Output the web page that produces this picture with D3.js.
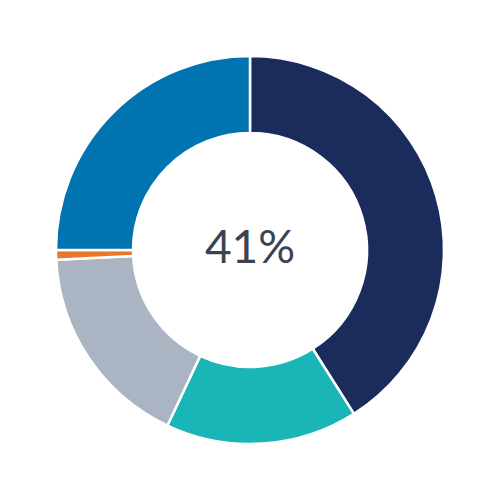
<!DOCTYPE html>
<html><head><meta charset="utf-8">
<script src="https://cdn.jsdelivr.net/npm/d3@7"></script>
<style>html,body{margin:0;padding:0;background:#fff;}</style>
</head><body>
<svg id="chart" width="500" height="500"></svg>
<script>
const categories = ["A", "B", "C", "D", "E"];
const values = [41, 16, 17.2, 0.8, 25];
const colors = ["#1b2b5b", "#1ab5b6", "#aab4c3", "#e8762b", "#0074b1"];
const centerLabel = "41%";

const svg = d3.select("#chart");
const g = svg.append("g").attr("transform", "translate(250,250)");
const pie = d3.pie().sort(null).value(d => d.v);
const arc = d3.arc().innerRadius(117).outerRadius(194);
const data = categories.map((c, i) => ({c, v: values[i], col: colors[i]}));
g.selectAll("path").data(pie(data)).join("path")
  .attr("d", arc)
  .attr("fill", d => d.data.col)
  .attr("stroke", "#fff")
  .attr("stroke-width", 2.5)
  .attr("stroke-linejoin", "round");
g.append("text").attr("x", 0).attr("y", 13)
  .attr("text-anchor", "middle")
  .attr("font-family", "Lato, 'Open Sans', sans-serif")
  .attr("font-size", 46)
  .attr("fill", "#3c4350")
  .text(centerLabel);
</script>
</body></html>
